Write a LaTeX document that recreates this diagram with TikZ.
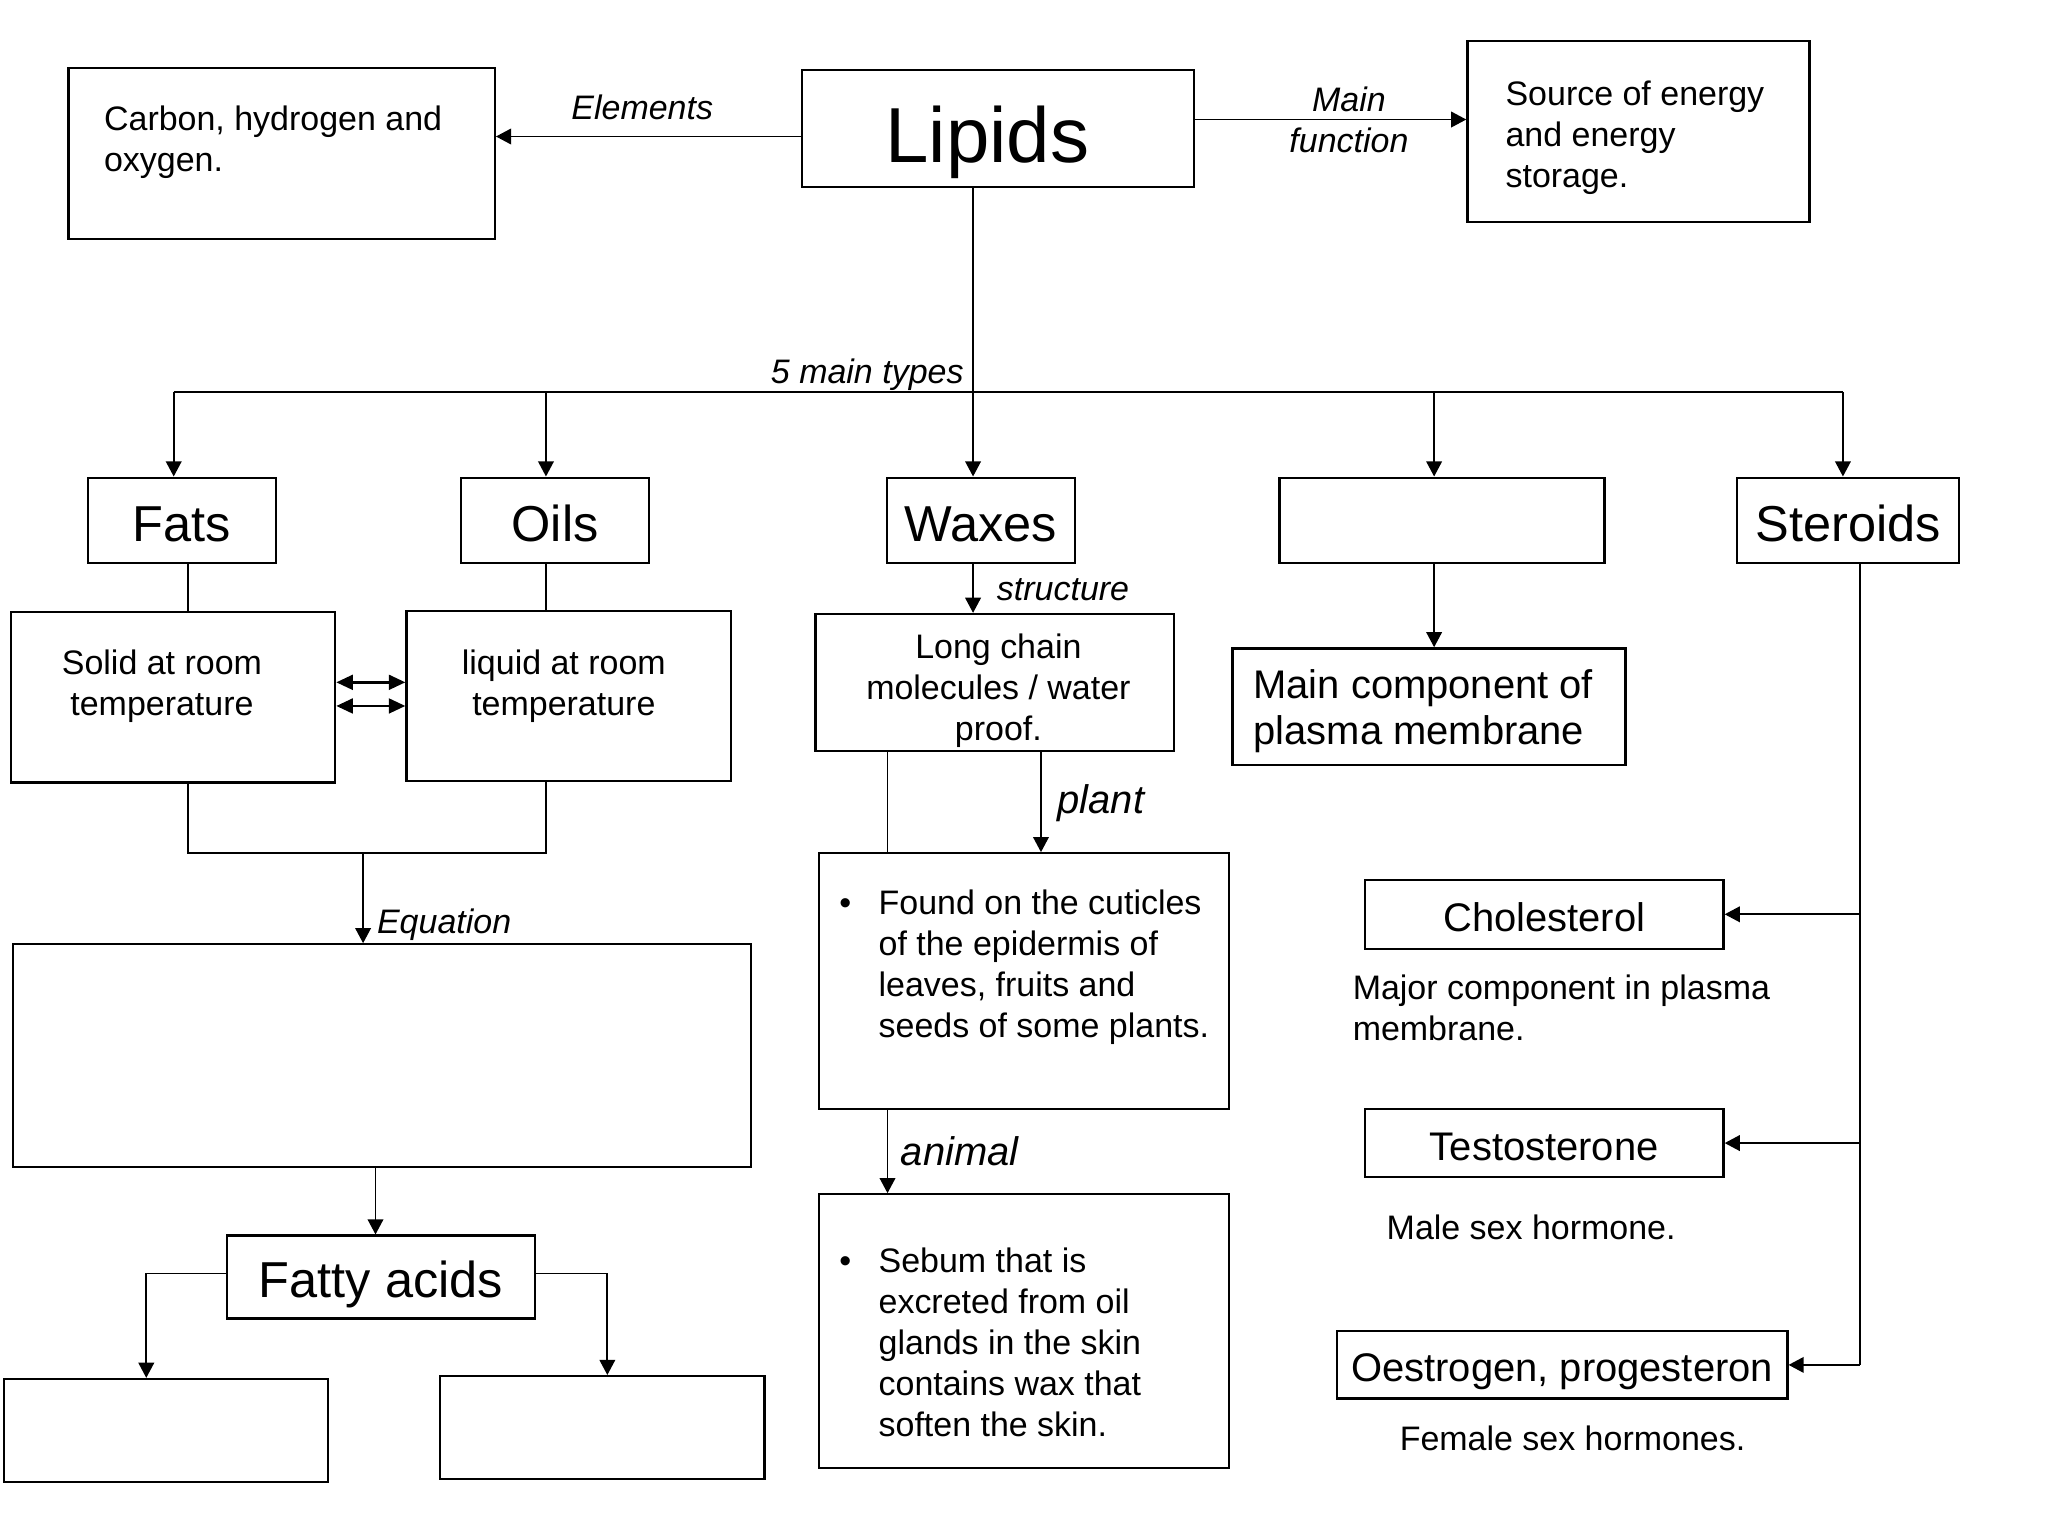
\documentclass[tikz,border=0pt]{standalone}
\usepackage{fontspec}
\setmainfont{Liberation Sans}
\usetikzlibrary{arrows.meta,positioning}

\def\Wd{1568}
\def\Ht{1176}
\def\BoxLine{0.5pt}
\def\LinkLine{0.4pt}

\newcommand{\fsmall}{\fontsize{7.4pt}{8.93pt}\selectfont}
\newcommand{\fmid}{\fontsize{8.7pt}{10.16pt}\selectfont}
\newcommand{\fbig}{\fontsize{11pt}{13pt}\selectfont}
\newcommand{\ftitle}{\fontsize{17pt}{20pt}\selectfont}
\newcommand{\bul}{\makebox[3mm][l]{\textbullet}}
\newcommand{\nobul}{\hspace*{3mm}}

\tikzset{
  box/.style 2 args={draw, line width=\BoxLine, inner sep=0pt,
    minimum width=#1mm, minimum height=#2mm},
  capbig/.style={font=\fbig, text height=9.1pt, text depth=0pt},
  capmid/.style={font=\fmid, text height=7.4pt, text depth=0pt},
  txt/.style={inner sep=0pt, font=\fsmall},
  lab/.style={inner sep=0pt, font=\fsmall\itshape},
  labbig/.style={inner sep=0pt, font=\fmid\itshape},
  link/.style={line width=\LinkLine},
  arr/.style={link, -{Triangle[length=3.3pt,width=3.4pt]}},
  twoway/.style={line width=0.6pt,
    {Triangle[length=3.6pt,width=3.2pt]}-{Triangle[length=3.6pt,width=3.2pt]}},
}

\begin{document}
\begin{tikzpicture}[x=0.1mm,y=-0.1mm]
  \useasboundingbox (0,0) rectangle (\Wd,\Ht);

  % --- Top row ---
  \node[box={32.63}{13.08}] (carbon) at (215.7,117.6) {};
  \node[box={30.0}{8.95}] (lipids) at (764.2,98.5) {};
  \node[box={26.2}{13.87}] (source) at (1254.5,100.8) {};
  \node[txt, align=left, anchor=west] (carbontxt) at (79,108.6)
    {Carbon, hydrogen and\\oxygen.};
  \node[inner sep=0pt, font=\ftitle, anchor=base] (lipidstxt) at (756,124.7) {Lipids};
  \node[txt, align=left, anchor=west] (sourcetxt) at (1152,105.5)
    {Source of energy\\and energy\\storage.};

  % --- Five types ---
  \node[box={14.35}{6.56}, capbig] (fats) at (139.3,398.5) {Fats};
  \node[box={14.4}{6.56}, capbig] (oils) at (425,398.5) {Oils};
  \node[box={14.4}{6.56}, capbig] (waxes) at (751,398.5) {Waxes};
  \node[box={24.9}{6.56}] (blank) at (1104,398.5) {};
  \node[box={17.0}{6.56}, capbig] (steroids) at (1415,398.5) {Steroids};

  % --- Fats and oils ---
  \node[box={24.8}{13.02}] (solid) at (132.6,533.9) {};
  \node[box={24.85}{13.06}] (liquid) at (435.5,532.9) {};
  \node[txt, align=center] (solidtxt) at (124,525.6) {Solid at room\\temperature};
  \node[txt, align=center] (liquidtxt) at (431.7,525.6) {liquid at room\\temperature};
  \node[box={56.52}{17.03}] (eqbox) at (292.4,808.15) {};
  \node[box={23.56}{6.34}, capbig] (fatty) at (291.6,977.7) {Fatty acids};
  \node[box={24.8}{7.86}] (accl) at (127,1095.1) {};
  \node[box={24.85}{7.88}] (accr) at (461,1093) {};

  % --- Waxes ---
  \node[box={27.48}{10.47}] (longchain) at (761.7,522.45) {};
  \node[txt, align=center] (longtxt) at (764.4,528.6)
    {Long chain\\molecules / water\\proof.};
  \node[box={31.4}{19.58}] (plant) at (784,751.2) {};
  \node[box={31.4}{20.94}] (animal) at (784,1019.1) {};
  \node[txt, align=left, anchor=west] (planttxt) at (642,740.8)
    {\bul Found on the cuticles\\\nobul of the epidermis of\\\nobul leaves, fruits and\\\nobul seeds of some plants.};
  \node[txt, align=left, anchor=west] (animaltxt) at (642,1027.8)
    {\bul Sebum that is\\\nobul excreted from oil\\\nobul glands in the skin\\\nobul contains wax that\\\nobul soften the skin.};

  % --- Membrane and steroids ---
  \node[box={30.1}{8.93}] (mainc) at (1094.1,541.05) {};
  \node[txt, font=\fmid, align=left, anchor=west] (maintxt) at (959,544.6)
    {Main component of\\plasma membrane};
  \node[box={27.46}{5.3}, capmid] (chol) at (1182.3,700) {Cholesterol};
  \node[box={27.46}{5.23}, capmid] (testo) at (1182.3,875.15) {Testosterone};
  \node[box={34.5}{5.16}, capmid] (oestro) at (1196,1045) {Oestrogen, progesteron};
  \node[txt, align=left, anchor=west] (choltxt) at (1035,772)
    {Major component in plasma\\membrane.};
  \node[txt, anchor=base west] (testotxt) at (1061,949) {Male sex hormone.};
  \node[txt, anchor=base west] (oestrotxt) at (1071,1110.6) {Female sex hormones.};

  % --- Connectors from Lipids ---
  \coordinate (elem) at ([yshift=-0.6mm]lipids.west);
  \draw[arr] (elem) -- (elem -| carbon.east);
  \node[lab, anchor=base] (elemlab) at (491.7,91.5) {Elements};
  \coordinate (func) at ([yshift=0.7mm]lipids.east);
  \draw[arr] (func) -- (func -| source.west);
  \node[lab, align=center] (funclab) at (1032.8,91.7) {Main\\function};

  \coordinate (trunk) at (745,300);
  \draw[arr] (lipids.south -| trunk) -- (waxes.north -| trunk);
  \foreach \x/\n in {133/fats,418/oils,1098/blank,1411/steroids}
  {
    \coordinate (b\n) at (\x,300);
    \draw[arr] (b\n) -- (b\n |- \n.north);
  }
  \draw[link] (bfats) -- (bsteroids);
  \node[lab, anchor=base] (typeslab) at (664,293.3) {5 main types};

  % --- Fats and oils connectors ---
  \coordinate (fatsdrop) at (144,450);
  \coordinate (oilsdrop) at (418,450);
  \coordinate (join) at (278,653);
  \draw[link] (fats.south -| fatsdrop) -- (solid.north -| fatsdrop);
  \draw[link] (oils.south -| oilsdrop) -- (liquid.north -| oilsdrop);
  \foreach \y in {522.4,540.5}
  {
    \coordinate (sw) at (0,\y);
    \draw[twoway] (solid.east |- sw) -- (liquid.west |- sw);
  }
  \draw[link] (solid.south -| fatsdrop) -- (fatsdrop |- join)
    -- (oilsdrop |- join) -- (liquid.south -| oilsdrop);
  \draw[arr] (join) -- (join |- eqbox.north);
  \node[lab, anchor=base west] (eqlab) at (288,714.6) {Equation};

  \coordinate (fattydrop) at (287.5,920);
  \draw[arr] (eqbox.south -| fattydrop) -- (fatty.north -| fattydrop);
  \coordinate (fl) at (112,975);
  \coordinate (fr) at (465,975);
  \draw[arr] (fatty.west |- fl) -- (fl) -- (fl |- accl.north);
  \draw[arr] (fatty.east |- fr) -- (fr) -- (fr |- accr.north);

  % --- Waxes connectors ---
  \draw[arr] (waxes.south -| trunk) -- (longchain.north -| trunk);
  \node[lab, anchor=base west] (structlab) at (762.6,459.4) {structure};
  \coordinate (plantdrop) at (797,600);
  \draw[arr] (longchain.south -| plantdrop) -- (plant.north -| plantdrop);
  \node[labbig, anchor=base west] (plantlab) at (809,622.7) {plant};
  \coordinate (animaldrop) at (679.5,880);
  \draw[link] (longchain.south -| animaldrop) -- (plant.north -| animaldrop);
  \draw[arr] (plant.south -| animaldrop) -- (animal.north -| animaldrop);
  \node[labbig, anchor=base west] (animallab) at (689,892) {animal};

  % --- Membrane and steroids connectors ---
  \coordinate (blankdrop) at (1098,460);
  \draw[arr] (blank.south -| blankdrop) -- (mainc.north -| blankdrop);
  \coordinate (strunk) at (1424,1045.3);
  \draw[link] (steroids.south -| strunk) -- (strunk);
  \foreach \n in {chol,testo,oestro}
  {
    \draw[arr] (strunk |- \n.east) -- (\n.east);
  }
\end{tikzpicture}
\end{document}
